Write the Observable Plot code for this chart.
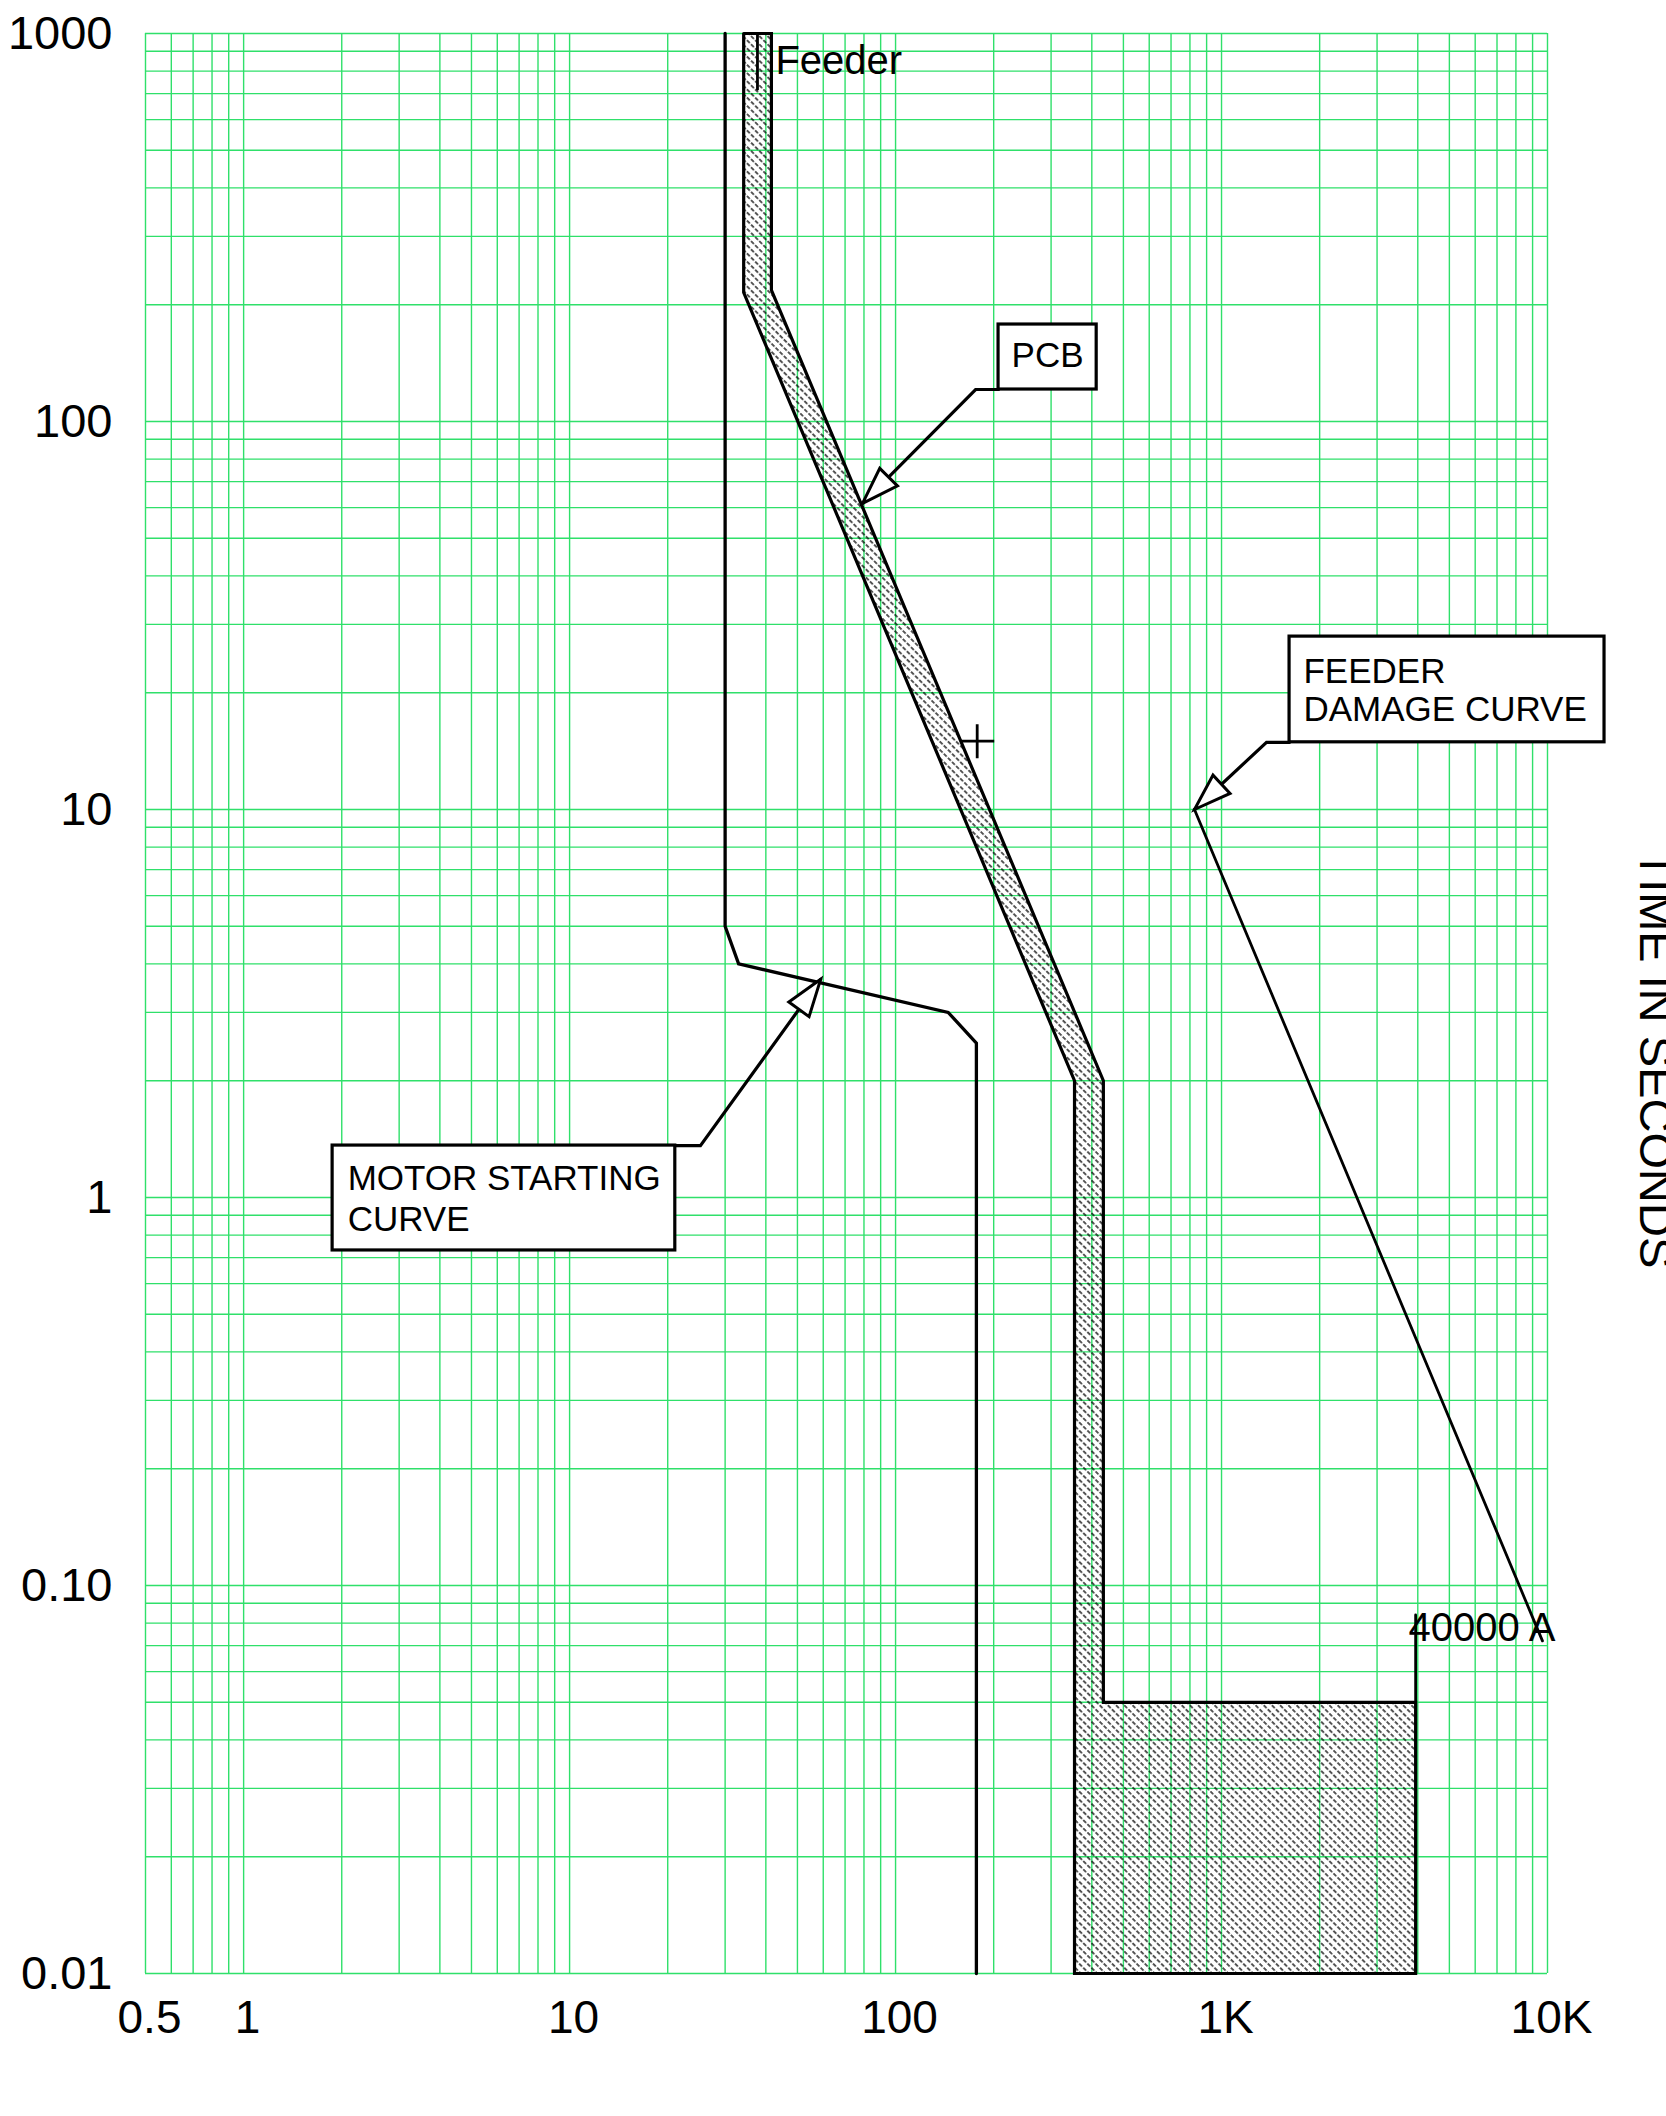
<!DOCTYPE html>
<html>
<head>
<meta charset="utf-8">
<script src="https://cdn.jsdelivr.net/npm/d3@7"></script>
<script src="https://cdn.jsdelivr.net/npm/@observablehq/plot@0.6"></script>
<style>
  html, body { margin: 0; padding: 0; background: white; overflow: hidden; }
  #chart svg { display: block; }
</style>
</head>
<body>
<div id="chart"></div>
<script>
// ---- axis ticks ----
const xTickValues = [0.5, 1, 10, 100, 1000, 10000];
const xTickLabels = ["0.5", "1", "10", "100", "1K", "10K"];
const yTickValues = [0.01, 0.1, 1, 10, 100, 1000];
const yTickLabels = ["0.01", "0.10", "1", "10", "100", "1000"];

// ---- motor starting curve (current A, time s) ----
const motorI = [30, 30, 33, 145, 177, 177];
const motorT = [1000, 5, 4, 3, 2.5, 0.01];

// ---- PCB band outline (current A, time s) ----
const pcbI = [34.2, 34.2, 354, 354, 3940, 3940, 434, 434, 41.6, 41.6, 34.2];
const pcbT = [1000, 215, 2, 0.01, 0.01, 0.05, 0.05, 2, 218, 1000, 1000];

// ---- feeder damage curve ----
const damageI = [826, 9650];
const damageT = [10, 0.072];

// ---- feeder tag line and fault-current tag line ----
const feederTagI = [37.7, 37.7];
const feederTagT = [1000, 718];
const faultTagI = [3940, 3940];
const faultTagT = [0.05, 0.084];

// ---- cross marker ----
const markI = [178];
const markT = [15];

// ---- annotation boxes ----
const boxIds = ["pcb", "motor", "damage"];
const boxI1 = [207, 1.875, 1617];
const boxI2 = [414, 21.1, 14960];
const boxT1 = [120.9, 0.7303, 14.9];
const boxT2 = [177.8, 1.361, 27.9];

// ---- leader lines (box corner -> elbow -> arrow tip) ----
const leaderIds = ["pcb", "pcb", "pcb", "motor", "motor", "motor", "damage", "damage", "damage"];
const leaderI = [207, 176, 79.2, 21.1, 25.2, 58.9, 1617, 1374, 826];
const leaderT = [120.9, 120.9, 61.5, 1.361, 1.361, 3.65, 14.9, 14.9, 10];

// ---- labels ----
const pcbLabel = {t: "PCB", x: 292.7, y: 147.9};
const motorLabel = {t: "MOTOR STARTING\nCURVE", x: 2.085, y: 1.0};
const damageLabel = {t: "FEEDER\nDAMAGE CURVE", x: 1784, y: 20.4};

const tagTexts = ["Feeder", "40000 A"];
const tagI = [42.8, 3747];
const tagT = [847, 0.0775];

const axisTitle = "TIME IN SECONDS";
const axisTitleI = 21380;
const axisTitleT = 2.27;

// ---- build tables ----
const pts = (xs, ys) => xs.map((x, i) => ({x, y: ys[i]}));
const motor = pts(motorI, motorT);
const pcb = pts(pcbI, pcbT);
const damage = pts(damageI, damageT);
const feederTag = pts(feederTagI, feederTagT);
const faultTag = pts(faultTagI, faultTagT);
const mark = pts(markI, markT);
const boxes = boxIds.map((id, i) => ({id, x1: boxI1[i], x2: boxI2[i], y1: boxT1[i], y2: boxT2[i]}));
const leaders = leaderIds.map((id, i) => ({id, x: leaderI[i], y: leaderT[i]}));
const tags = tagTexts.map((t, i) => ({t, x: tagI[i], y: tagT[i]}));

const fontFamily = "'Liberation Sans', Arial, Helvetica, sans-serif";
const gridColor = "#2fe06a";

const svg = Plot.plot({
  width: 1666,
  height: 2116,
  marginLeft: 145,
  marginRight: 119,
  marginTop: 33,
  marginBottom: 143,
  style: {fontFamily, fontSize: "47px", color: "black", background: "white", overflow: "hidden"},
  x: {type: "log", domain: [0.5, 10000], axis: null},
  y: {
    type: "log", domain: [0.01, 1000], ticks: yTickValues,
    tickFormat: d => yTickLabels[yTickValues.indexOf(d)],
    tickSize: 0, tickPadding: 33, label: null
  },
  marks: [
    Plot.gridX({ticks: 80, stroke: gridColor, strokeOpacity: 1, strokeWidth: 1.4}),
    Plot.gridY({ticks: 80, stroke: gridColor, strokeOpacity: 1, strokeWidth: 1.4}),
    Plot.text(xTickValues, {
      x: d => d, text: d => xTickLabels[xTickValues.indexOf(d)],
      frameAnchor: "bottom", lineAnchor: "top", dy: 27, dx: 4, fontSize: 46, fill: "black"
    }),
    Plot.line(pcb, {x: "x", y: "y", stroke: "black", strokeWidth: 3.2, strokeLinejoin: "miter", strokeMiterlimit: 11}),
    Plot.line(feederTag, {x: "x", y: "y", stroke: "black", strokeWidth: 2.8}),
    Plot.line(faultTag, {x: "x", y: "y", stroke: "black", strokeWidth: 2.8}),
    Plot.line(motor, {x: "x", y: "y", stroke: "black", strokeWidth: 3.3, strokeLinejoin: "miter", strokeMiterlimit: 10}),
    Plot.line(damage, {x: "x", y: "y", stroke: "black", strokeWidth: 2.8}),
    Plot.dot(mark, {x: "x", y: "y", symbol: "plus", r: 11, stroke: "black", strokeWidth: 2.8}),
    Plot.rect(boxes, {x1: "x1", x2: "x2", y1: "y1", y2: "y2", fill: "white", stroke: "black", strokeWidth: 3.2}),
    Plot.line(leaders, {x: "x", y: "y", z: "id", stroke: "black", strokeWidth: 3.2, strokeLinejoin: "miter", strokeMiterlimit: 13}),
    Plot.text([pcbLabel], {x: "x", y: "y", text: "t", textAnchor: "middle", fontSize: 35, fill: "black"}),
    Plot.text([motorLabel], {x: "x", y: "y", text: "t", textAnchor: "start", lineHeight: 1.17, fontSize: 35, fill: "black"}),
    Plot.text([damageLabel], {x: "x", y: "y", text: "t", textAnchor: "start", lineHeight: 1.09, fontSize: 35, fill: "black"}),
    Plot.text(tags, {x: "x", y: "y", text: "t", textAnchor: "start", fontSize: 40, fill: "black"}),
    Plot.text([axisTitle], {x: () => axisTitleI, y: () => axisTitleT, text: d => d, rotate: 90, textAnchor: "middle", fontSize: 47, fill: "black"})
  ]
});

// hatch pattern and open triangle arrowhead
const sel = d3.select(svg);
sel.insert("defs", ":first-child").html(`
  <pattern id="hatch" patternUnits="userSpaceOnUse" width="5.8" height="5.8" patternTransform="rotate(-45)">
    <line x1="1" y1="0" x2="1" y2="5.8" stroke="#000" stroke-width="1.3" stroke-dasharray="3.2 1.6"/>
  </pattern>
  <marker id="tri" viewBox="-42 -16 44 32" refX="0" refY="0" markerWidth="44" markerHeight="32"
          markerUnits="userSpaceOnUse" orient="auto" style="overflow:visible">
    <path d="M0,0L-37,-12.5L-37,12.5Z" fill="white" stroke="black" stroke-width="3" stroke-linejoin="miter"/>
  </marker>
`);
sel.selectAll('g[stroke-miterlimit="11"] path').attr("fill", "url(#hatch)");
sel.selectAll('g[stroke-miterlimit="13"] path').attr("marker-end", "url(#tri)");

document.getElementById("chart").appendChild(svg);
</script>
</body>
</html>
